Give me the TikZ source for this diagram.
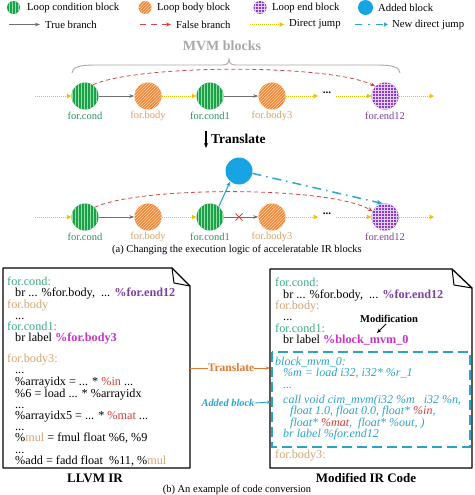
\documentclass[tikz,border=0pt]{standalone}
\usepackage{fontspec}
\setmainfont{Liberation Serif}
\usetikzlibrary{arrows.meta,patterns,decorations.pathreplacing}
\definecolor{condgreen}{HTML}{1EA04A}
\definecolor{condstripe}{HTML}{8FE0A4}
\definecolor{bodyorange}{HTML}{F08636}
\definecolor{bodystripe}{HTML}{FCD6AE}
\definecolor{endpurple}{HTML}{8A3CC6}
\definecolor{endgrid}{HTML}{E6CFF7}
\definecolor{addblue}{HTML}{16A4E2}
\definecolor{truegray}{HTML}{707070}
\definecolor{falsered}{HTML}{D44545}
\definecolor{jumpyellow}{HTML}{F0C000}
\definecolor{newcyan}{HTML}{2AA6D2}
\definecolor{labgreen}{HTML}{2F8F5E}
\definecolor{labtan}{HTML}{D6A06A}
\definecolor{labpurple}{HTML}{7A3E9D}
\definecolor{codegreen}{HTML}{3CAA7E}
\definecolor{codetan}{HTML}{D3A574}
\definecolor{codepurple}{HTML}{7B3FA0}
\definecolor{codemag}{HTML}{C832C8}
\definecolor{codered}{HTML}{D83A3A}
\definecolor{codecyan}{HTML}{2BA3C9}
\definecolor{transorange}{HTML}{E07A30}
\definecolor{mvmgray}{HTML}{A8A8A8}
\begin{document}
\begin{tikzpicture}[x=1pt,y=-1pt,
  blk/.style={circle, inner sep=0pt, minimum size=27pt},
  condblk/.style={blk, fill=condgreen, postaction={pattern=vertical lines, pattern color=condstripe}},
  bodyblk/.style={blk, fill=bodyorange, postaction={pattern=north east lines, pattern color=bodystripe}},
  endblk/.style={blk, fill=endpurple, postaction={pattern=grid, pattern color=endgrid}},
  addblk/.style={blk, fill=addblue},
  lgdsize/.style={minimum size=13pt},
  lgdtext/.style={anchor=west, inner sep=0pt, font=\fontsize{10.7}{12}\selectfont},
  lbl/.style={inner sep=0pt, font=\fontsize{10.5}{12}\selectfont},
  code/.style={anchor=base west, inner sep=0pt, font=\fontsize{12.2}{13}\selectfont},
  icode/.style={code, text=codecyan, font=\itshape\fontsize{12}{13}\selectfont},
  truebr/.style={draw=truegray, line width=0.7pt, -{Stealth[length=5pt,width=3.5pt]}},
  falsebr/.style={draw=falsered, line width=0.8pt, dash pattern=on 4pt off 3pt, -{Stealth[length=5pt,width=4pt]}},
  jump/.style={draw=jumpyellow, line width=0.8pt, dash pattern=on 1pt off 1pt, -{Triangle[length=4.5pt,width=4.5pt]}},
  newjump/.style={draw=newcyan, line width=1.5pt, dash pattern=on 9pt off 5pt on 1.5pt off 5pt, -{Stealth[length=6pt,width=5pt]}},
  newsolid/.style={draw=newcyan, line width=1.1pt, -{Stealth[length=5pt,width=4.5pt]}},
  boxline/.style={draw=black, line width=1.3pt, line join=round},
]
\useasboundingbox (0,0) rectangle (474,495);

% ---------------- legend ----------------
\node[condblk, lgdsize] (lg1) at (13.5,7.5) {};
\node[lgdtext] (lt1) at (27,7.5) {Loop condition block};
\node[bodyblk, lgdsize] (lg2) at (145,7.5) {};
\node[lgdtext] (lt2) at (157,7.5) {Loop body block};
\node[endblk, lgdsize] (lg3) at (260,7.5) {};
\node[lgdtext] (lt3) at (272,7.5) {Loop end block};
\node[addblk, minimum size=15pt] (lg4) at (365.5,7.5) {};
\node[lgdtext] (lt4) at (378,7.5) {Added block};

\coordinate (ta) at (9,24.5);  \coordinate (tb) at (40,24.5);
\draw[truebr] (ta) -- (tb);
\node[lgdtext] (lt5) at (45,24.5) {True branch};
\coordinate (fa) at (140,24.5); \coordinate (fb) at (171,24.5);
\draw[falsebr, dash pattern=on 6pt off 5pt] (fa) -- (fb);
\node[lgdtext] (lt6) at (176,24.5) {False branch};
\coordinate (ja) at (250,24.5); \coordinate (jb) at (284,24.5);
\draw[jump] (ja) -- (jb);
\node[lgdtext] (lt7) at (289,24.5) {Direct jump};
\coordinate (na) at (355,24.5); \coordinate (nb) at (388,24.5);
\draw[newjump, line width=1pt, dash pattern=on 7pt off 6pt on 1.5pt off 6pt, -{Triangle[length=4pt,width=4pt]}] (na) -- (nb);
\node[lgdtext] (lt8) at (392,24.5) {New direct jump};

% ---------------- row 1 ----------------
\node[font=\bfseries\fontsize{14}{16}\selectfont, text=mvmgray] (mvm) at (222,46) {MVM blocks};
\draw[mvmgray, line width=0.9pt] (72,73) .. controls (72,67) and (80,65) .. (95,65) -- (222,65)
  .. controls (226,65) and (229,64) .. (229,59) .. controls (229,64) and (232,65) .. (236,65)
  -- (377,65) .. controls (392,65) and (400,67) .. (400,73);

\node[condblk] (a1) at (85,96) {};
\node[bodyblk] (a2) at (148,96) {};
\node[condblk] (a3) at (210,96) {};
\node[bodyblk] (a4) at (272,96) {};
\node[inner sep=0pt, font=\bfseries\fontsize{11}{12}\selectfont] (a5) at (327,93) {...};
\node[endblk] (a6) at (385,96) {};
\coordinate (s1) at (35,96);
\coordinate (e1) at (434,96);
\coordinate (d1w) at (318,96);
\coordinate (d1e) at (336,96);

\draw[jump] (s1) -- (a1);
\draw[truebr] (a1) -- (a2);
\draw[jump] (a2) -- (a3);
\draw[truebr] (a3) -- (a4);
\draw[jump] (a4) -- (d1w);
\draw[jump] (d1e) -- (a6);
\draw[jump] (a6) -- (e1);
\draw[falsebr] (a1.55) .. controls (140,64) and (330,64) .. (a6.135);

\node[lbl, text=labgreen] (la1) at (85,116) {for.cond};
\node[lbl, text=labtan] (la2) at (148,116) {for.body};
\node[lbl, text=labgreen] (la3) at (210,116) {for.cond1};
\node[lbl, text=labtan] (la4) at (272,116) {for.body3};
\node[lbl, text=labpurple] (la6) at (385,116) {for.end12};

% translate arrow
\coordinate (tra) at (206,131);
\coordinate (trb) at (206,148);
\draw[line width=1.1pt, -{Stealth[length=5pt,width=4pt]}] (tra) -- (trb);
\node[anchor=west, inner sep=0pt, font=\bfseries\fontsize{13.5}{15}\selectfont] (trl) at (211,139) {Translate};

% ---------------- row 2 ----------------
\node[addblk] (bb) at (239,171) {};
\node[condblk] (b1) at (85,217) {};
\node[bodyblk] (b2) at (148,217) {};
\node[condblk] (b3) at (210,217) {};
\node[bodyblk] (b4) at (272,217) {};
\node[inner sep=0pt, font=\bfseries\fontsize{11}{12}\selectfont] (b5) at (327,214) {...};
\node[endblk] (b6) at (385,217) {};
\coordinate (s2) at (35,217);
\coordinate (e2) at (434,217);
\coordinate (d2w) at (318,217);
\coordinate (d2e) at (336,217);

\draw[jump] (s2) -- (b1);
\draw[truebr] (b1) -- (b2);
\draw[jump] (b2) -- (b3);
\draw[truebr] (b3) -- (b4);
\draw[jump] (b4) -- (d2w);
\draw[jump] (d2e) -- (b6);
\draw[jump] (b6) -- (e2);
\draw[falsebr] (b1.45) .. controls (140,186) and (330,186) .. (b6.155);
\draw[newsolid] (b3.50) -- (bb.230);
\draw[newjump] (bb.-10) -- (b6.100);
\coordinate (xc) at (239,217);
\draw[falsered, line width=0.9pt] ([shift={(-3.5,-3.5)}]xc) -- ([shift={(3.5,3.5)}]xc)
  ([shift={(-3.5,3.5)}]xc) -- ([shift={(3.5,-3.5)}]xc);

\node[lbl, text=labgreen] (lb1) at (85,237) {for.cond};
\node[lbl, text=labtan] (lb2) at (148,237) {for.body};
\node[lbl, text=labgreen] (lb3) at (210,237) {for.cond1};
\node[lbl, text=labtan] (lb4) at (272,237) {for.body3};
\node[lbl, text=labpurple] (lb6) at (385,237) {for.end12};

\node[inner sep=0pt, font=\fontsize{10.5}{12}\selectfont] (capa) at (237,249.5) {(a) Changing the execution logic of acceleratable IR blocks};

% ---------------- part (b): left box ----------------
\draw[boxline] (3,268) -- (172,268) -- (190,286) -- (190,468) -- (3,468) -- cycle;
\draw[boxline, line width=1pt] (172,268) -- (174,283) -- (190,286);

\node[code, text=codegreen] (l1) at (7,285) {for.cond:};
\node[code] (l2) at (15,296.5) {br ... \%for.body,\ \ ... \textbf{\textcolor{codepurple}{\%for.end12}}};
\node[code, text=codetan] (l3) at (7,308) {for.body};
\node[code] (l4) at (15,319.2) {...};
\node[code, text=codegreen] (l5) at (7,330.4) {for.cond1:};
\node[code] (l6) at (15,341.6) {br label \textbf{\textcolor{codemag}{\%for.body3}}};
\node[code, text=codetan] (l7) at (7,362.5) {for.body3:};
\node[code] (l8) at (15,373.7) {...};
\node[code] (l9) at (15,385) {\%arrayidx = ... * \textcolor{codered}{\%in} ...};
\node[code] (l10) at (15,397) {\%6 = load ... * \%arrayidx};
\node[code] (l11) at (15,408.2) {...};
\node[code] (l12) at (15,419.4) {\%arrayidx5 = ... * \textcolor{codered}{\%mat} ...};
\node[code] (l13) at (15,430.6) {...};
\node[code] (l14) at (15,441.8) {\%\textcolor{codetan}{mul} = fmul float \%6, \%9};
\node[code] (l15) at (15,453) {...};
\node[code] (l16) at (15,464.2) {\%add = fadd float\ \ \%11, \%\textcolor{codetan}{mul}};
\node[font=\bfseries\fontsize{13}{15}\selectfont, inner sep=0pt] (llvm) at (95,478) {LLVM IR};

% translate between boxes
\coordinate (lboxE) at (190,368);
\coordinate (rboxW) at (270,368);
\node[inner sep=0pt, font=\bfseries\fontsize{11.5}{13}\selectfont, text=transorange] (tr2) at (231,368) {Translate};
\draw[transorange, line width=0.9pt] (lboxE) -- (tr2.west);
\draw[transorange, line width=0.9pt, -{Stealth[length=4.5pt,width=3.5pt]}] (tr2.east) -- (rboxW);

% ---------------- right box ----------------
\draw[boxline] (270,269) -- (452,269) -- (472,288) -- (472,468) -- (270,468) -- cycle;
\draw[boxline, line width=1pt] (452,269) -- (454,285) -- (472,288);

\node[code, text=codegreen] (r1) at (275,286.5) {for.cond:};
\node[code] (r2) at (283,298.5) {br ... \%for.body,\ \ ... \textbf{\textcolor{codepurple}{\%for.end12}}};
\node[code, text=codetan] (r3) at (275,309.7) {for.body:};
\node[code] (r4) at (283,320.9) {...};
\node[inner sep=0pt, font=\bfseries\fontsize{10.5}{12}\selectfont] (mod) at (389,319) {Modification};
\coordinate (modst) at (386,324);
\coordinate (modtip) at (377,333);
\draw[line width=0.8pt, -{Stealth[length=4.5pt,width=3.5pt]}] (modst) -- (modtip);
\node[code, text=codegreen] (r5) at (275,332.1) {for.cond1:};
\node[code] (r6) at (283,343.3) {br label \textbf{\textcolor{codemag}{\%block\_mvm\_0}}};

\draw[codecyan, line width=1.2pt, dash pattern=on 10pt off 5pt] (272,352) rectangle (470,447);

\node[icode] (r7) at (275,365.5) {block\_mvm\_0:};
\node[icode] (r8) at (283,376.7) {\%m = load i32, i32* \%r\_1};
\node[icode] (r9) at (283,388.2) {...};
\node[icode] (r10) at (283,403) {call void cim\_mvm(i32 \%m\ \ \ i32 \%n,};
\node[icode] (r11) at (290,414.5) {float 1.0, float 0.0, float* \textcolor{codered}{\%in},};
\node[icode] (r12) at (290,426) {float* \textcolor{codered}{\%mat},\ \ float* \%out, )};
\node[icode] (r13) at (283,437.5) {br label \%for.end12};
\node[code, text=codetan] (r14) at (275,458) {for.body3:};

\node[inner sep=0pt, font=\bfseries\itshape\fontsize{10.4}{12}\selectfont, text=codecyan] (addb) at (228,403) {Added block};
\coordinate (addtip) at (271,402);
\draw[codecyan, line width=0.9pt, -{Stealth[length=4pt,width=3.5pt]}] (addb.east) -- (addtip);

\node[font=\bfseries\fontsize{13}{15}\selectfont, inner sep=0pt] (mir) at (366,478) {Modified IR Code};
\node[inner sep=0pt, font=\fontsize{10.5}{12}\selectfont] (capb) at (237,489.5) {(b) An example of code conversion};
\end{tikzpicture}
\end{document}
